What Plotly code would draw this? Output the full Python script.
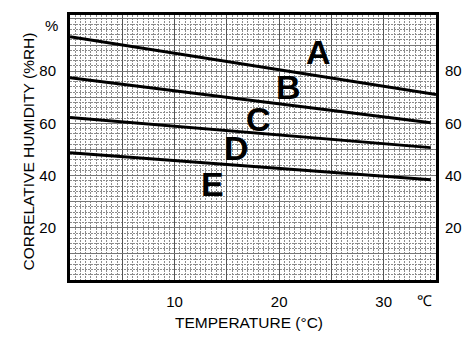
import plotly.graph_objects as go

# ---- data ----
temp_A = [0, 35]
rh_A = [93.2, 71.0]
temp_B = [0, 34.5]
rh_B = [77.5, 60.2]
temp_C = [0, 34.5]
rh_C = [62.2, 50.7]
temp_D = [0, 34.5]
rh_D = [48.7, 38.4]

zone_names = ["A", "B", "C", "D", "E"]
zone_x = [23.8, 20.9, 18.0, 15.9, 13.6]
zone_y = [87.5, 74.1, 61.8, 50.7, 36.8]

x_ticks = [0, 5, 10, 15, 20, 25, 30, 35]
x_ticktext = ["", "", "10", "", "20", "", "30", ""]
y_ticks = [0, 10, 20, 30, 40, 50, 60, 70, 80, 90, 100]
y_ticktext = ["", "", "20", "", "40", "", "60", "", "80", "", ""]
y2_ticks = [20, 40, 60, 80]
y2_ticktext = ["20", "40", "60", "80"]

FONT = "Liberation Sans, Arial, Helvetica, sans-serif"

fig = go.Figure()
for xs, ys in [(temp_A, rh_A), (temp_B, rh_B), (temp_C, rh_C), (temp_D, rh_D)]:
    fig.add_trace(go.Scatter(x=xs, y=ys, mode="lines",
                             line=dict(color="black", width=3),
                             showlegend=False, hoverinfo="skip"))
# invisible trace to activate right axis
fig.add_trace(go.Scatter(x=[0], y=[0], yaxis="y2", mode="markers",
                         marker=dict(opacity=0), showlegend=False, hoverinfo="skip"))

grid_minor = dict(showgrid=True, gridcolor="#8c8c8c", griddash="2px,1px", gridwidth=1)

fig.update_layout(
    width=474, height=352,
    margin=dict(l=70, r=35, t=15, b=72),
    paper_bgcolor="white", plot_bgcolor="white",
    font=dict(family=FONT, size=14, color="black"),
    xaxis=dict(range=[0, 35], tickmode="array", tickvals=x_ticks, ticktext=x_ticktext,
               showgrid=True, gridcolor="#555555", gridwidth=1,
               minor=dict(tickmode="linear", tick0=0, dtick=0.5, **grid_minor),
               showline=True, linecolor="black", linewidth=3, mirror=True,
               ticks="outside", ticklen=6, tickcolor="rgba(0,0,0,0)",
               zeroline=False, tickfont=dict(size=15)),
    yaxis=dict(range=[0, 101.5], tickmode="array", tickvals=y_ticks, ticktext=y_ticktext,
               showgrid=True, gridcolor="#777777", gridwidth=1,
               minor=dict(tickmode="linear", tick0=0, dtick=2, **grid_minor),
               showline=True, linecolor="black", linewidth=3, mirror=True,
               ticks="outside", ticklen=8, tickcolor="rgba(0,0,0,0)",
               zeroline=False, tickfont=dict(size=15)),
    yaxis2=dict(range=[0, 101.5], overlaying="y", side="right", anchor="x",
                tickmode="array", tickvals=y2_ticks, ticktext=y2_ticktext,
                showgrid=False, showline=False, zeroline=False,
                ticks="outside", ticklen=5, tickcolor="rgba(0,0,0,0)",
                tickfont=dict(size=15)),
)

for name, zx, zy in zip(zone_names, zone_x, zone_y):
    fig.add_annotation(x=zx, y=zy, xref="x", yref="y", text=name, showarrow=False,
                       font=dict(family=FONT, size=34, color="black", weight="bold"))

# axis titles and unit marks
fig.add_annotation(xref="paper", yref="paper", x=0, y=0.5, xshift=-42, yshift=-4,
                   xanchor="center", yanchor="middle",
                   text="CORRELATIVE HUMIDITY (%RH)", textangle=-90, showarrow=False,
                   font=dict(family=FONT, size=15.5, color="black"))
fig.add_annotation(xref="paper", yref="paper", x=0.5, y=0, yshift=-42, xshift=-4,
                   xanchor="center", yanchor="middle",
                   text="TEMPERATURE (°C)", showarrow=False,
                   font=dict(family=FONT, size=15.5, color="black"))
fig.add_annotation(xref="x", yref="paper", x=33.9, y=0, yshift=-20,
                   xanchor="center", yanchor="middle",
                   text="℃", showarrow=False,
                   font=dict(family=FONT, size=15, color="black"))
fig.add_annotation(xref="paper", yref="y", x=0, y=97.5, xshift=-19,
                   xanchor="center", yanchor="middle",
                   text="%", showarrow=False,
                   font=dict(family=FONT, size=15, color="black"))

fig.write_html("out.html")
